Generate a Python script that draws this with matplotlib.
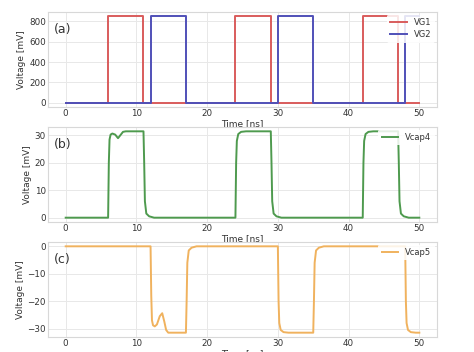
import matplotlib
matplotlib.use("Agg")
import matplotlib.pyplot as plt

# gate voltages (mV), breakpoints
t_vg1 = [0, 6, 6, 11, 11, 24, 24, 29, 29, 42, 42, 47, 47, 50]
vg1 = [0, 0, 850, 850, 0, 0, 850, 850, 0, 0, 850, 850, 0, 0]
t_vg2 = [0, 12, 12, 17, 17, 30, 30, 35, 35, 48, 48, 50]
vg2 = [0, 0, 850, 850, 0, 0, 850, 850, 0, 0, 850, 850]

# capacitor voltages (mV), panel (b)
t_vcap4 = [0, 6.0, 6.1, 6.2, 6.35, 6.6, 7.0, 7.4, 7.8, 8.1, 8.5, 11.0, 11.1, 11.2, 11.4, 11.8, 12.5,
           24.0, 24.1, 24.2, 24.4, 24.8, 25.5, 29.0, 29.1, 29.2, 29.4, 29.8, 30.5,
           42.0, 42.1, 42.2, 42.4, 42.8, 43.5, 47.0, 47.1, 47.2, 47.4, 47.8, 48.5, 50]
vcap4 = [0, 0, 20, 28.5, 30.3, 30.7, 30.3, 29.0, 30.3, 31.3, 31.5, 31.5, 20, 6, 1.5, 0.5, 0,
         0, 20, 28, 30.5, 31.3, 31.5, 31.5, 20, 6, 1.5, 0.5, 0,
         0, 20, 28, 30.5, 31.3, 31.5, 31.5, 20, 6, 1.5, 0.5, 0, 0]

# panel (c)
t_vcap5 = [0, 12.0, 12.1, 12.2, 12.35, 12.6, 12.9, 13.3, 13.65, 13.95, 14.2, 14.5, 17.0,
           17.1, 17.2, 17.4, 17.8, 18.5, 30.0, 30.1, 30.2, 30.4, 30.8, 31.5, 35.0,
           35.1, 35.2, 35.4, 35.8, 36.5, 48.0, 48.1, 48.2, 48.4, 48.8, 49.5, 50]
vcap5 = [0, 0, -18, -27, -28.8, -29.2, -28.5, -25.5, -24.4, -27.5, -30.5, -31.5, -31.5,
         -20, -6, -1.5, -0.5, 0, 0, -20, -28, -30.5, -31.3, -31.5, -31.5,
         -20, -6, -1.5, -0.5, 0, 0, -20, -28, -30.5, -31.3, -31.5, -31.5]

xticks = [0, 10, 20, 30, 40, 50]

plt.rcParams["font.family"] = "DejaVu Sans"

fig = plt.figure(figsize=(4.74, 3.52), dpi=100)
left, width, height = 48 / 474, 389 / 474, 95 / 352
bottoms = [1 - 107 / 352, 1 - 222 / 352, 1 - 337 / 352]
axes = [fig.add_axes([left, b, width, height]) for b in bottoms]

axes[0].plot(t_vg1, vg1, color="#d95c5c", lw=1.4, label="VG1")
axes[0].plot(t_vg2, vg2, color="#5050b8", lw=1.4, label="VG2")
axes[0].set_yticks([0, 200, 400, 600, 800])
axes[1].plot(t_vcap4, vcap4, color="#4e9a4e", lw=1.4, label="Vcap4")
axes[1].set_yticks([0, 10, 20, 30])
axes[2].plot(t_vcap5, vcap5, color="#f0b25e", lw=1.4, label="Vcap5")
axes[2].set_yticks([0, -10, -20, -30])

for ax, tag in zip(axes, ["(a)", "(b)", "(c)"]):
    ax.set_xticks(xticks)
    ax.grid(True, color="#e8e8e8", lw=0.7)
    ax.set_axisbelow(True)
    for s in ax.spines.values():
        s.set_color("#d8d8d8")
        s.set_linewidth(0.8)
    ax.tick_params(length=0, labelsize=6.3, colors="#333333", pad=1.5)
    ax.set_xlabel("Time [ns]", fontsize=6.5, color="#333333", labelpad=0.5)
    ax.set_ylabel("Voltage [mV]", fontsize=6.5, color="#333333", labelpad=2)
    ax.text(0.016, 0.82, tag, transform=ax.transAxes, fontsize=9,
            color="#333333", va="center", ha="left")
    leg = ax.legend(loc="upper right", fontsize=6, frameon=True, framealpha=0.85,
                    edgecolor="none", borderaxespad=0.3, handlelength=2.0,
                    labelspacing=0.4)
    for txt in leg.get_texts():
        txt.set_color("#333333")

fig.savefig("out.png", dpi=100)
